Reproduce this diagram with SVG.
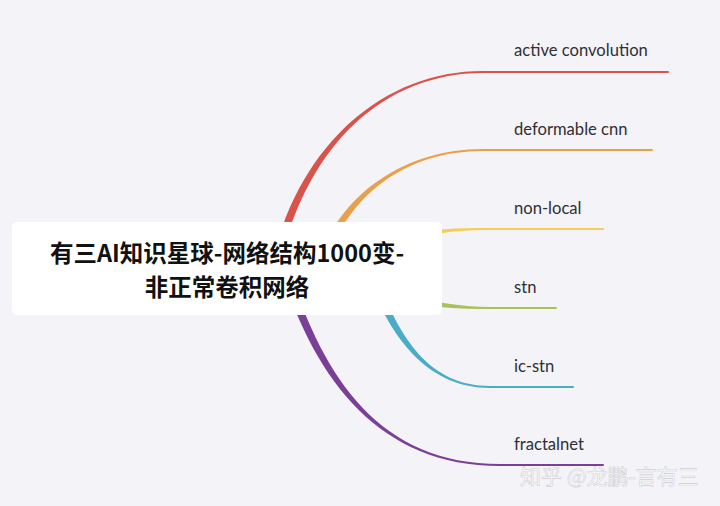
<svg xmlns="http://www.w3.org/2000/svg" width="720" height="506" viewBox="0 0 720 506">
<style>
.lbl{font-family:Lato,"Noto Sans","Liberation Sans",sans-serif;font-size:16.6px;fill:#2f2f36}
.root{font-family:"Noto Sans CJK SC","Noto Sans",sans-serif;font-size:23.5px;font-weight:bold;fill:#111}
.ul{fill:none;stroke-width:2;stroke-linecap:round}
.wm{font-family:"Noto Sans CJK SC",sans-serif;font-size:21px;fill:#ffffff;stroke:#cfcfd4;stroke-width:0.6}
</style>
<rect width="720" height="506" fill="#f4f3f8"/>
<g id="connectors">
<path d="M 279,268.7 C 304,150.7 380,73 483,73 L 483,71 C 380,71 296,149.3 271,267.3 Z" fill="#d9534a"/>
<path d="M 324,269 C 344,201 400,151 483,151 L 483,149 C 400,149 336,199 316,267 Z" fill="#e9a04a"/>
<path d="M 380,249 C 420,235 450,230 490,230 L 490,228 C 450,228 420,229 380,241 Z" fill="#f3cf5a"/>
<path d="M 400,291 C 430,302 460,307 490,307 L 490,309 C 460,309 430,308 400,299 Z" fill="#a6c25a"/>
<path d="M 368,276 C 391,341 430,388 490,388 L 490,386 C 430,386 399,339 376,274 Z" fill="#4bacc6"/>
<path d="M 281,271 C 316,381 380,466 500,466 L 500,464 C 380,464 324,379 289,269 Z" fill="#7b3f98"/>
</g>
<g id="root">
<rect x="12" y="222" width="430" height="93" rx="5" fill="#ffffff"/>
<text class="root" x="227" y="261.5" text-anchor="middle">有三AI知识星球-网络结构1000变-</text>
<text class="root" x="227" y="295.5" text-anchor="middle">非正常卷积网络</text>
</g>
<g id="n-active">
<line class="ul" x1="482" y1="72" x2="668" y2="72" stroke="#d9534a"/>
<text class="lbl" x="514" y="56">active convolution</text>
</g>
<g id="n-deformable">
<line class="ul" x1="482" y1="150" x2="652" y2="150" stroke="#e9a04a"/>
<text class="lbl" x="514" y="135">deformable cnn</text>
</g>
<g id="n-nonlocal">
<line class="ul" x1="489" y1="229" x2="603" y2="229" stroke="#f3cf5a"/>
<text class="lbl" x="514" y="214">non-local</text>
</g>
<g id="n-stn">
<line class="ul" x1="489" y1="308" x2="556" y2="308" stroke="#a6c25a"/>
<text class="lbl" x="514" y="293">stn</text>
</g>
<g id="n-icstn">
<line class="ul" x1="489" y1="387" x2="573" y2="387" stroke="#4bacc6"/>
<text class="lbl" x="514" y="372">ic-stn</text>
</g>
<g id="n-fractalnet">
<line class="ul" x1="499" y1="465" x2="603" y2="465" stroke="#7b3f98"/>
<text class="lbl" x="514" y="450">fractalnet</text>
</g>
<text class="wm" x="520" y="484">知乎 @龙鹏-言有三</text>
</svg>
